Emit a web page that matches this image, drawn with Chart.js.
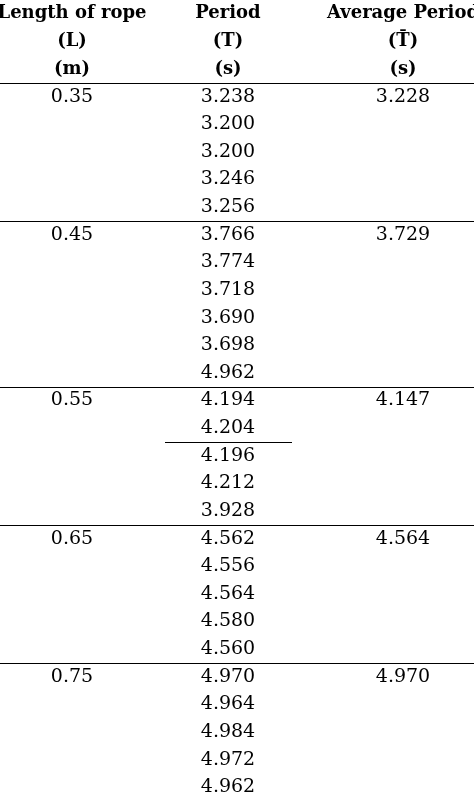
<!DOCTYPE html>
<html><head><meta charset="utf-8">
<script src="https://cdn.jsdelivr.net/npm/chart.js@4"></script>
<style>html,body{margin:0;padding:0;background:#fff}#w{width:474px;height:801px}</style>
</head><body><div id="w"><canvas id="c"></canvas></div>
<script>
const headers = [["Length of rope","(L)","(m)"],["Period","(T)","(s)"],["Average Period","(T\u0304)","(s)"]];
const lengths = ["0.35","0.45","0.55","0.65","0.75"];
const periods = [
  ["3.238","3.200","3.200","3.246","3.256"],
  ["3.766","3.774","3.718","3.690","3.698","4.962"],
  ["4.194","4.204","4.196","4.212","3.928"],
  ["4.562","4.556","4.564","4.580","4.560"],
  ["4.970","4.964","4.984","4.972","4.962"]
];
const averages = ["3.228","3.729","4.147","4.564","4.970"];
const colX = [72, 228, 403];

const tablePlugin = {
  id:'table',
  afterDraw(chart){
    const {ctx, scales:{x,y}} = chart;
    ctx.save();
    ctx.fillStyle='#000'; ctx.textAlign='center'; ctx.textBaseline='middle';
    ctx.font='bold 18px "DejaVu Serif"';
    headers.forEach((h,c)=>h.forEach((t,r)=>ctx.fillText(t, x.getPixelForValue(colX[c]), y.getPixelForValue(r-3))));
    ctx.font='19px "DejaVu Serif"';
    const hline=(v,x0,x1)=>{ctx.beginPath();const py=Math.round(y.getPixelForValue(v))+0.5;ctx.moveTo(x.getPixelForValue(x0),py);ctx.lineTo(x.getPixelForValue(x1),py);ctx.lineWidth=1;ctx.strokeStyle='#000';ctx.stroke();};
    hline(-0.5,0,474);
    let row=0;
    periods.forEach((g,gi)=>{
      ctx.fillText(lengths[gi], x.getPixelForValue(colX[0]), y.getPixelForValue(row));
      ctx.fillText(averages[gi], x.getPixelForValue(colX[2]), y.getPixelForValue(row));
      g.forEach((p,i)=>{
        ctx.fillText(p, x.getPixelForValue(colX[1]), y.getPixelForValue(row+i));
        if(gi===2 && i===1) hline(row+i+0.5,165,292);
      });
      row+=g.length;
      if(gi<periods.length-1) hline(row-0.5,0,474);
    });
    ctx.restore();
  }
};
new Chart(document.getElementById('c'),{
  type:'scatter',
  data:{datasets:[{data:[],pointRadius:0}]},
  options:{
    responsive:true, maintainAspectRatio:false, animation:false,
    layout:{padding:0},
    plugins:{legend:{display:false},tooltip:{enabled:false}},
    scales:{
      x:{type:'linear',min:0,max:474,display:false},
      y:{type:'linear',min:-3.5,max:25.5,reverse:true,display:false}
    }
  },
  plugins:[tablePlugin]
});
</script></body></html>
